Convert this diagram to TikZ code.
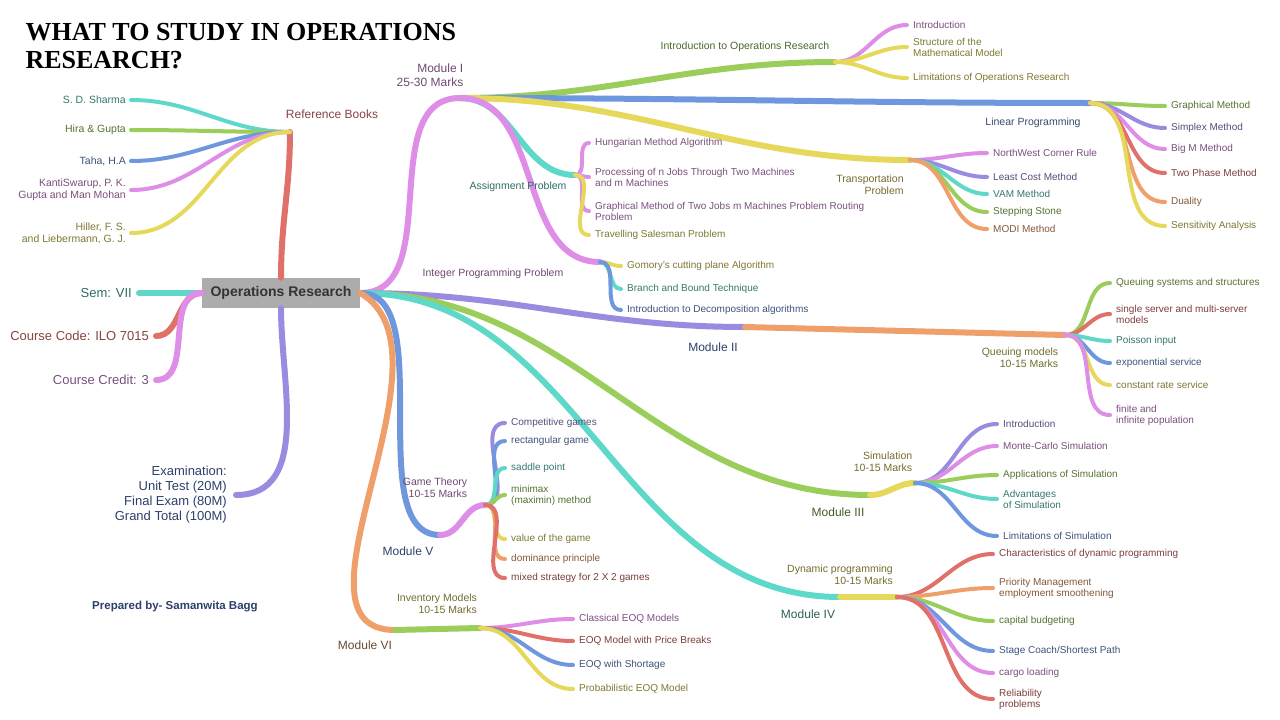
\documentclass[tikz,border=0pt]{standalone}
\usepackage{fontspec}
\setmainfont{Liberation Sans}
\newfontfamily\titlefont{Liberation Serif}
\usetikzlibrary{positioning}

\definecolor{mpink}{HTML}{DE8EE6}
\definecolor{mteal}{HTML}{5ED8C8}
\definecolor{mgreen}{HTML}{9ACD5A}
\definecolor{mblue}{HTML}{6F97DE}
\definecolor{mpurple}{HTML}{9A8AE0}
\definecolor{myellow}{HTML}{E6D85A}
\definecolor{morange}{HTML}{EFA06A}
\definecolor{mred}{HTML}{E0706A}
\definecolor{navy}{HTML}{2D3F6B}

\begin{document}
\begin{tikzpicture}[
    x=1pt, y=-1pt,
    br/.style={line width=6pt, line cap=round, draw=#1},
    tw/.style={line width=4pt, line cap=round, draw=#1},
    leaf/.style={font=\fontsize{10}{11}\selectfont, align=left, anchor=west, inner sep=1pt},
    lleaf/.style={font=\fontsize{13}{15}\selectfont, align=right, anchor=east, inner sep=1pt},
    hub/.style={font=\fontsize{10.5}{12}\selectfont, align=right, inner sep=1pt},
    module/.style={font=\fontsize{12}{14}\selectfont, inner sep=1pt},
    center/.style={rectangle, fill=gray!65, text=black!80, font=\bfseries\fontsize{14}{16}\selectfont,
        minimum width=158pt, minimum height=30pt}
]
\useasboundingbox (0,0) rectangle (1280,720);

% Title and footer
\node[anchor=north west, align=left, font=\titlefont\bfseries\fontsize{26}{28}\selectfont] (title) at (22,20)
    {WHAT TO STUDY IN OPERATIONS\\RESEARCH?};
\node[font=\bfseries\fontsize{11.5}{13}\selectfont, text=navy] (prep) at (175,607) {Prepared by- Samanwita Bagg};

% Root node
\node[center] (or) at (281,293) {Operations Research};

% Hub points
\coordinate (refH) at (290,132);
\coordinate (m1) at (460,98);
\coordinate (iorH) at (835,62);
\coordinate (lpH) at (1090,103);
\coordinate (tpH) at (910,160);
\coordinate (apH) at (575,175);
\coordinate (ipH) at (600,262);
\coordinate (m2) at (745,327);
\coordinate (qH) at (1065,335);
\coordinate (m3) at (870,495);
\coordinate (simH) at (915,483);
\coordinate (m4) at (840,597);
\coordinate (dpH) at (897,597);
\coordinate (m5) at (440,535);
\coordinate (gtH) at (485,505);
\coordinate (m6) at (395,630);
\coordinate (invH) at (480,628);

% Left side
\draw[br=mred] (or.north) to[out=90,in=-90] (refH);
\node[hub, text=mred!60!black, font=\fontsize{12}{14}\selectfont] (ref) at (332,114) {Reference Books};
\foreach \n/\y/\c/\t in {a/100/mteal/{S. D. Sharma}, b/130/mgreen/{Hira \& Gupta}, c/161/mblue/{Taha, H.A},
    d/190/mpink/{KantiSwarup, P. K.\\Gupta and Man Mohan}, e/233/myellow/{Hiller, F. S.\\and Liebermann, G. J.}}
{
  \node[lleaf, font=\fontsize{10.5}{12}\selectfont, text=\c!55!black] (book\n) at (127,\y) {\t};
  \draw[tw=\c] (refH) to[out=180,in=0] ([xshift=4pt]book\n.east);
}
\node[lleaf, text=mteal!50!black] (sem) at (133,293) {Sem: VII};
\draw[br=mteal] (or.west) -- ([xshift=6pt]sem.east);
\node[lleaf, text=mred!60!black] (code) at (150,336) {Course Code: ILO 7015};
\draw[br=mred] (or.west) to[out=180,in=0] ([xshift=6pt]code.east);
\node[lleaf, text=mpink!55!black] (credit) at (150,380) {Course Credit: 3};
\draw[br=mpink] (or.west) to[out=180,in=0] ([xshift=6pt]credit.east);
\node[lleaf, text=navy] (exam) at (228,495) {Examination:\\Unit Test (20M)\\Final Exam (80M)\\Grand Total (100M)};
\draw[br=mpurple] (or.south) to[out=-90,in=0] ([xshift=8pt]exam.east);

% Module I
\draw[br=mpink] (or.east) to[out=0,in=180] (m1);
\node[module, align=right, text=mpink!50!black] (mod1) at (430,75) {Module I\\25-30 Marks};
\draw[br=mgreen] (m1) to[out=0,in=180] (iorH);
\draw[br=mblue] (m1) to[out=0,in=180] (lpH);
\draw[br=myellow] (m1) to[out=0,in=180] (tpH);
\draw[br=mteal] (m1) to[out=0,in=180] (apH);
\draw[br=mpink] (m1) to[out=0,in=180] (ipH);
\node[hub, text=mgreen!50!black] (ior) at (745,47) {Introduction to Operations Research};
\node[hub, text=mblue!50!black] (lp) at (1033,123) {Linear Programming};
\node[hub, text=myellow!50!black] (tp) at (870,185) {Transportation\\Problem};
\node[hub, text=mteal!50!black] (ap) at (518,187) {Assignment Problem};
\node[hub, text=mpink!50!black] (ip) at (493,274) {Integer Programming Problem};
\foreach \n/\y/\c/\t in {a/25/mpink/Introduction, b/47/myellow/{Structure of the\\Mathematical Model},
    c/78/myellow/{Limitations of Operations Research}}
{
  \node[leaf, text=\c!55!black] (intro\n) at (912,\y) {\t};
  \draw[tw=\c] (iorH) to[out=0,in=180] ([xshift=-5pt]intro\n.west);
}
\foreach \n/\y/\c/\t in {a/106/mgreen/{Graphical Method}, b/128/mpurple/{Simplex Method}, c/149/mpink/{Big M Method},
    d/173/mred/{Two Phase Method}, e/202/morange/{Duality}, f/226/myellow/{Sensitivity Analysis}}
{
  \node[leaf, text=\c!55!black] (lp\n) at (1170,\y) {\t};
  \draw[tw=\c] (lpH) to[out=0,in=180] ([xshift=-5pt]lp\n.west);
}
\foreach \n/\y/\c/\t in {a/153/mpink/{NorthWest Corner Rule}, b/177/mpurple/{Least Cost Method}, c/194/mteal/{VAM Method},
    d/212/mgreen/{Stepping Stone}, e/229/morange/{MODI Method}}
{
  \node[leaf, text=\c!55!black] (tp\n) at (992,\y) {\t};
  \draw[tw=\c] (tpH) to[out=0,in=180] ([xshift=-5pt]tp\n.west);
}
\foreach \n/\y/\c/\t in {a/143/mpink/{Hungarian Method Algorithm}, b/177/mpink/{Processing of n Jobs Through Two Machines\\and m Machines},
    c/211/mpink/{Graphical Method of Two Jobs m Machines Problem Routing\\Problem}, d/235/myellow/{Travelling Salesman Problem}}
{
  \node[leaf, text=\c!55!black] (ap\n) at (594,\y) {\t};
  \draw[tw=\c] (apH) to[out=0,in=180] ([xshift=-5pt]ap\n.west);
}
\foreach \n/\y/\c/\t in {a/266/myellow/{Gomory's cutting plane Algorithm}, b/289/mteal/{Branch and Bound Technique},
    c/310/mblue/{Introduction to Decomposition algorithms}}
{
  \node[leaf, text=\c!55!black] (ip\n) at (626,\y) {\t};
  \draw[tw=\c] (ipH) to[out=0,in=180] ([xshift=-5pt]ip\n.west);
}

% Module II
\draw[br=mpurple] (or.east) to[out=0,in=180] (m2);
\draw[br=morange] (m2) -- (qH);
\node[module, text=navy] (mod2) at (713,347) {Module II};
\node[hub, text=myellow!50!black] (q) at (1020,358) {Queuing models\\10-15 Marks};
\foreach \n/\y/\c/\t in {a/283/mgreen/{Queuing systems and structures}, b/314/mred/{single server and multi-server\\models},
    c/341/mteal/{Poisson input}, d/363/mblue/{exponential service}, e/385/myellow/{constant rate service},
    f/415/mpink/{finite and\\infinite population}}
{
  \node[leaf, text=\c!55!black] (q\n) at (1115,\y) {\t};
  \draw[tw=\c] (qH) to[out=0,in=180] ([xshift=-5pt]q\n.west);
}

% Module III
\draw[br=mgreen] (or.east) to[out=0,in=180] (m3);
\draw[br=myellow] (m3) to[out=0,in=180] (simH);
\node[module, text=mgreen!45!black] (mod3) at (838,512) {Module III};
\node[hub, text=myellow!50!black] (sim) at (883,462) {Simulation\\10-15 Marks};
\foreach \n/\y/\c/\t in {a/424/mpurple/Introduction, b/446/mpink/{Monte-Carlo Simulation},
    c/475/mgreen/{Applications of Simulation}, d/499/mteal/{Advantages\\of Simulation}, e/536/mblue/{Limitations of Simulation}}
{
  \node[leaf, text=\c!55!black] (sim\n) at (1002,\y) {\t};
  \draw[tw=\c] (simH) to[out=0,in=180] ([xshift=-5pt]sim\n.west);
}

% Module IV
\draw[br=mteal] (or.east) to[out=0,in=180] (m4);
\draw[br=myellow] (m4) -- (dpH);
\node[module, text=mteal!45!black] (mod4) at (808,614) {Module IV};
\node[hub, text=myellow!50!black] (dp) at (840,575) {Dynamic programming\\10-15 Marks};
\foreach \n/\y/\c/\t in {a/554/mred/{Characteristics of dynamic programming}, b/588/morange/{Priority Management\\employment smoothening},
    c/621/mgreen/{capital budgeting}, d/651/mblue/{Stage Coach/Shortest Path}, e/673/mpink/{cargo loading},
    f/699/mred/{Reliability\\problems}}
{
  \node[leaf, text=\c!55!black] (dp\n) at (998,\y) {\t};
  \draw[tw=\c] (dpH) to[out=0,in=180] ([xshift=-5pt]dp\n.west);
}

% Module V
\draw[br=mblue] (or.east) to[out=0,in=180,looseness=0.8] (m5);
\draw[br=mpink] (m5) to[out=0,in=180] (gtH);
\node[module, text=navy] (mod5) at (408,551) {Module V};
\node[hub, text=mpink!50!black] (gt) at (435,488) {Game Theory\\10-15 Marks};
\foreach \n/\y/\c/\t in {a/423/mpurple/{Competitive games}, b/441/mblue/{rectangular game}, c/468/mteal/{saddle point},
    d/495/mgreen/{minimax\\(maximin) method}, e/539/myellow/{value of the game}, f/559/morange/{dominance principle},
    g/578/mred/{mixed strategy for 2 X 2 games}}
{
  \node[leaf, text=\c!55!black] (gt\n) at (510,\y) {\t};
  \draw[tw=\c] (gtH) to[out=0,in=180] ([xshift=-5pt]gt\n.west);
}

% Module VI
\draw[br=morange] (or.east) to[out=-30,in=180,looseness=0.9] (m6);
\draw[br=mgreen] (m6) -- (invH);
\node[module, text=morange!45!black] (mod6) at (365,645) {Module VI};
\node[hub, text=myellow!50!black] (inv) at (437,604) {Inventory Models\\10-15 Marks};
\foreach \n/\y/\c/\t in {a/619/mpink/{Classical EOQ Models}, b/641/mred/{EOQ Model with Price Breaks},
    c/665/mblue/{EOQ with Shortage}, d/689/myellow/{Probabilistic EOQ Model}}
{
  \node[leaf, text=\c!55!black] (inv\n) at (578,\y) {\t};
  \draw[tw=\c] (invH) to[out=0,in=180] ([xshift=-5pt]inv\n.west);
}
\end{tikzpicture}
\end{document}
